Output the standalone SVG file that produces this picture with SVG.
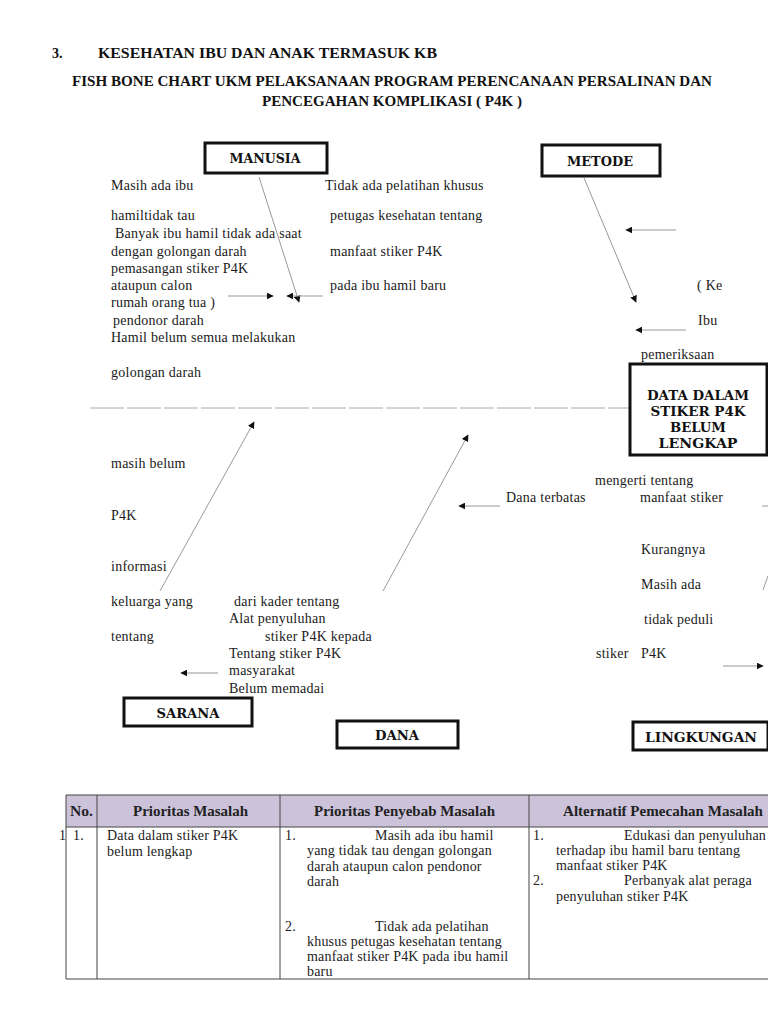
<svg xmlns="http://www.w3.org/2000/svg" width="768" height="1024" viewBox="0 0 768 1024">
<style>
.t{font-family:"Liberation Serif",serif;font-size:14px;letter-spacing:0.25px;fill:#1a1a1a}
.h{font-family:"Liberation Serif",serif;font-weight:bold;font-size:14px;fill:#111}
.bx{fill:#fff;stroke:#111;stroke-width:3}
.bl{font-family:"DejaVu Serif","Liberation Serif",serif;font-weight:bold;font-size:12px;fill:#111;text-anchor:middle}
.c{stroke:#999;stroke-width:1;fill:none}
.tb{font-family:"Liberation Serif",serif;font-size:14px;letter-spacing:0.2px;fill:#222}
.th{font-family:"Liberation Serif",serif;font-weight:bold;font-size:14.5px;fill:#222}
.grid{stroke:#444;stroke-width:1}
</style>
<defs>
<marker id="ah" viewBox="0 0 10 10" refX="9" refY="5" markerWidth="7" markerHeight="7" markerUnits="userSpaceOnUse" orient="auto">
<path d="M0,0 L10,5 L0,10 z" fill="#111"/>
</marker>
</defs>
<rect width="768" height="1024" fill="#fff"/>

<g id="title">
<text class="h" x="52" y="58">3.</text>
<text class="h" x="98" y="58" textLength="339" lengthAdjust="spacingAndGlyphs">KESEHATAN IBU DAN ANAK TERMASUK KB</text>
<text class="h" x="72" y="86" textLength="640" lengthAdjust="spacingAndGlyphs">FISH BONE CHART UKM PELAKSANAAN PROGRAM PERENCANAAN PERSALINAN DAN</text>
<text class="h" x="262" y="106" textLength="260" lengthAdjust="spacingAndGlyphs">PENCEGAHAN KOMPLIKASI ( P4K )</text>
</g>

<g id="connectors">
<line x1="90" y1="408" x2="629" y2="408" stroke="#aaa" stroke-width="1" stroke-dasharray="34 3"/>
<line class="c" x1="259" y1="177" x2="299" y2="302" marker-end="url(#ah)"/>
<line class="c" x1="228" y1="296" x2="273" y2="296" marker-end="url(#ah)"/>
<line class="c" x1="323" y1="296" x2="287" y2="296" marker-end="url(#ah)"/>
<line class="c" x1="584" y1="178" x2="636" y2="302" marker-end="url(#ah)"/>
<line class="c" x1="676" y1="230" x2="626" y2="230" marker-end="url(#ah)"/>
<line class="c" x1="686" y1="330" x2="636" y2="330" marker-end="url(#ah)"/>
<line class="c" x1="160" y1="591" x2="254" y2="422" marker-end="url(#ah)"/>
<line class="c" x1="383" y1="591" x2="468" y2="435" marker-end="url(#ah)"/>
<line class="c" x1="500" y1="506" x2="459" y2="506" marker-end="url(#ah)"/>
<line class="c" x1="218" y1="673" x2="181" y2="673" marker-end="url(#ah)"/>
<line class="c" x1="723" y1="666" x2="763" y2="666" marker-end="url(#ah)"/>
<line class="c" x1="762" y1="506" x2="768" y2="506"/>
<line class="c" x1="768" y1="576" x2="763" y2="590"/>
</g>

<g id="manusia">
<rect class="bx" x="205" y="143" width="122" height="30"/>
<text class="bl" x="265" y="163" textLength="71" lengthAdjust="spacingAndGlyphs">MANUSIA</text>
</g>
<g id="metode">
<rect class="bx" x="542" y="145" width="118" height="31"/>
<text class="bl" x="600" y="166" textLength="66" lengthAdjust="spacingAndGlyphs">METODE</text>
</g>
<g id="masalah">
<rect class="bx" x="630" y="364" width="137" height="91" stroke-width="3.5"/>
<text class="bl" x="698" y="400" textLength="102" lengthAdjust="spacingAndGlyphs">DATA DALAM</text>
<text class="bl" x="698" y="416" textLength="95" lengthAdjust="spacingAndGlyphs">STIKER P4K</text>
<text class="bl" x="698" y="432" textLength="56" lengthAdjust="spacingAndGlyphs">BELUM</text>
<text class="bl" x="698" y="448" textLength="79" lengthAdjust="spacingAndGlyphs">LENGKAP</text>
</g>
<g id="sarana">
<rect class="bx" x="124" y="698" width="128" height="28"/>
<text class="bl" x="188" y="718" textLength="63" lengthAdjust="spacingAndGlyphs">SARANA</text>
</g>
<g id="dana">
<rect class="bx" x="337" y="721" width="121" height="27"/>
<text class="bl" x="397" y="740" textLength="44" lengthAdjust="spacingAndGlyphs">DANA</text>
</g>
<g id="lingkungan">
<rect class="bx" x="633" y="722" width="135" height="28"/>
<text class="bl" x="701" y="742" textLength="112" lengthAdjust="spacingAndGlyphs">LINGKUNGAN</text>
</g>

<g id="labels-manusia">
<text class="t" x="111" y="190">Masih ada ibu</text>
<text class="t" x="111" y="220">hamiltidak tau</text>
<text class="t" x="115" y="238">Banyak ibu hamil tidak ada saat</text>
<text class="t" x="111" y="256">dengan golongan  darah</text>
<text class="t" x="111" y="273">pemasangan stiker P4K</text>
<text class="t" x="111" y="290">ataupun calon</text>
<text class="t" x="111" y="307">rumah orang tua )</text>
<text class="t" x="113" y="325">pendonor darah</text>
<text class="t" x="111" y="342">Hamil belum semua melakukan</text>
<text class="t" x="111" y="377">golongan darah</text>
<text class="t" x="325" y="190">Tidak ada pelatihan khusus</text>
<text class="t" x="330" y="220">petugas kesehatan tentang</text>
<text class="t" x="330" y="256">manfaat stiker P4K</text>
<text class="t" x="330" y="290">pada ibu hamil baru</text>
</g>
<g id="labels-metode">
<text class="t" x="697" y="290">( Ke</text>
<text class="t" x="698" y="325">Ibu</text>
<text class="t" x="641" y="359">pemeriksaan</text>
</g>
<g id="labels-sarana">
<text class="t" x="111" y="468">masih belum</text>
<text class="t" x="111" y="520">P4K</text>
<text class="t" x="111" y="571">informasi</text>
<text class="t" x="111" y="606">keluarga yang</text>
<text class="t" x="111" y="641">tentang</text>
<text class="t" x="234" y="606">dari kader tentang</text>
<text class="t" x="229" y="623">Alat penyuluhan</text>
<text class="t" x="265" y="641">stiker P4K kepada</text>
<text class="t" x="229" y="658">Tentang stiker P4K</text>
<text class="t" x="229" y="675">masyarakat</text>
<text class="t" x="229" y="693">Belum  memadai</text>
</g>
<g id="labels-dana-lingkungan">
<text class="t" x="595" y="485">mengerti tentang</text>
<text class="t" x="506" y="502">Dana terbatas</text>
<text class="t" x="640" y="502">manfaat stiker</text>
<text class="t" x="641" y="554">Kurangnya</text>
<text class="t" x="641" y="589">Masih ada</text>
<text class="t" x="644" y="624">tidak peduli</text>
<text class="t" x="596" y="658">stiker</text>
<text class="t" x="641" y="658">P4K</text>
</g>

<g id="table">
<rect x="66" y="795" width="710" height="32" fill="#ccc3db"/>
<line class="grid" x1="66" y1="795" x2="768" y2="795"/>
<line class="grid" x1="66" y1="827" x2="768" y2="827"/>
<line class="grid" x1="66" y1="979" x2="768" y2="979"/>
<line class="grid" x1="66" y1="795" x2="66" y2="979"/>
<line class="grid" x1="97" y1="795" x2="97" y2="979"/>
<line class="grid" x1="280" y1="795" x2="280" y2="979"/>
<line class="grid" x1="529" y1="795" x2="529" y2="979"/>
<text class="th" x="70" y="816" textLength="23" lengthAdjust="spacingAndGlyphs">No.</text>
<text class="th" x="133" y="816" textLength="115" lengthAdjust="spacingAndGlyphs">Prioritas Masalah</text>
<text class="th" x="314" y="816" textLength="181" lengthAdjust="spacingAndGlyphs">Prioritas Penyebab Masalah</text>
<text class="th" x="563" y="816" textLength="200" lengthAdjust="spacingAndGlyphs">Alternatif Pemecahan Masalah</text>
<text class="tb" x="59" y="840">1</text>
<text class="tb" x="73" y="840">1.</text>
<text class="tb" x="107" y="840">Data dalam stiker P4K</text>
<text class="tb" x="107" y="856">belum lengkap</text>
<text class="tb" x="285" y="840">1.</text>
<text class="tb" x="375" y="840">Masih ada ibu hamil</text>
<text class="tb" x="307" y="855">yang tidak tau dengan golongan</text>
<text class="tb" x="307" y="871">darah ataupun calon pendonor</text>
<text class="tb" x="307" y="886">darah</text>
<text class="tb" x="285" y="931">2.</text>
<text class="tb" x="375" y="931">Tidak ada pelatihan</text>
<text class="tb" x="307" y="946">khusus petugas kesehatan tentang</text>
<text class="tb" x="307" y="961">manfaat stiker P4K  pada ibu hamil</text>
<text class="tb" x="307" y="976">baru</text>
<text class="tb" x="533" y="840">1.</text>
<text class="tb" x="624" y="840">Edukasi dan penyuluhan</text>
<text class="tb" x="556" y="855">terhadap ibu hamil baru tentang</text>
<text class="tb" x="556" y="870">manfaat stiker P4K</text>
<text class="tb" x="533" y="885">2.</text>
<text class="tb" x="624" y="885">Perbanyak alat peraga</text>
<text class="tb" x="556" y="901">penyuluhan stiker P4K</text>
</g>
</svg>
